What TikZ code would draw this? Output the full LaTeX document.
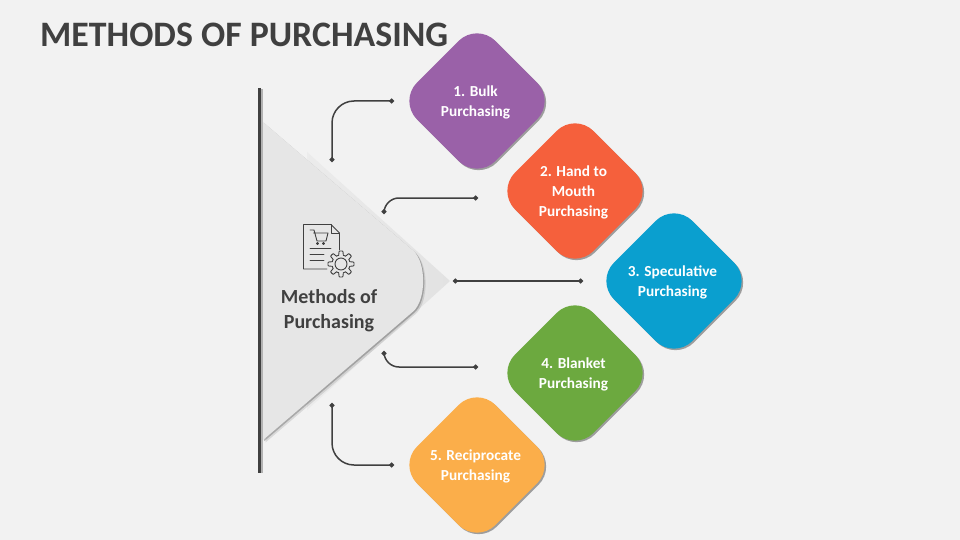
\documentclass[tikz,border=0pt]{standalone}
\usepackage{fontspec}
\setmainfont{Carlito}
\usetikzlibrary{shapes.geometric,arrows.meta,shadows}
\definecolor{bgc}{HTML}{F2F2F2}
\definecolor{ink}{HTML}{404040}
\definecolor{hubc}{HTML}{E6E6E6}
\definecolor{backc}{HTML}{E2E2E2}
\definecolor{cPurple}{HTML}{9A61A8}
\definecolor{cRed}{HTML}{F5603C}
\definecolor{cBlue}{HTML}{0A9FCF}
\definecolor{cGreen}{HTML}{6CA93F}
\definecolor{cOrange}{HTML}{FBAE4A}
\newcommand{\hubpath}{(263,122) -- (413,250.4) .. controls (426.5,262) and (426.5,300) .. (413,311.6) -- (263,440) -- cycle}
\tikzset{
  x=1pt,y=-1pt,
  card/.style={diamond,minimum width=157pt,minimum height=157pt,inner sep=0pt,
    rounded corners=26pt,fill=#1,
    drop shadow={shadow xshift=1.5pt,shadow yshift=-1.5pt,opacity=.35,fill=black}},
  cardtext/.style={text=white,font=\fontsize{15.3}{19.6}\selectfont\bfseries,align=center,inner sep=0pt},
  link/.style={draw=ink,line width=1.5pt,{Circle[length=4.8pt]}-{Circle[length=4.8pt]}},
  icon/.style={draw=ink,line width=.9pt,line join=round,line cap=round},
}
\begin{document}
\begin{tikzpicture}
\useasboundingbox (0,0) rectangle (960,540);
\fill[bgc] (0,0) rectangle (960,540);
\node[anchor=west,inner sep=0pt,text=ink,font=\fontsize{35.8}{36}\selectfont\bfseries] (title) at (40,35) {METHODS OF PURCHASING};
% back triangle
\path[left color=bgc!60!backc,right color=backc] (307,152) -- (450,281) -- (307,410) -- cycle;
% spine
\fill[black!30] (260,89) rectangle (262.5,473);
\draw[ink,line width=2.5pt] (259.5,88) -- (259.5,473);
% hub shadow + hub
\fill[black,opacity=.1,shift={(2.5,2.5)}] \hubpath;
\fill[black,opacity=.22,shift={(1.2,1.2)}] \hubpath;
\fill[hubc] \hubpath;
\node[align=center,text=ink,inner sep=0pt,font=\fontsize{20}{25}\selectfont\bfseries] (hub) at (329,310.5) {Methods of\\Purchasing};
% icon
\draw[icon] (327,269) -- (303.5,269) -- (303.5,224.5) -- (331,224.5) -- (339.5,233) -- (339.5,250);
\draw[icon] (331,224.5) -- (331,233) -- (339.5,233);
\draw[icon] (310,230) -- (314,230) -- (317,241) -- (326,241) -- (328,233) -- (313.5,233);
\filldraw[icon] (317.5,243.5) circle (1pt) (323.5,243.5) circle (1pt);
\draw[icon] (310,248) -- (331,248) (310,254) -- (324,254) (310,260) -- (324,260);
\draw[icon,fill=hubc] plot[domain=0:360,samples=121] ({341+(11+2*max(-1,min(1,2.5*cos(8*\x))))*cos(\x)},{264+(11+2*max(-1,min(1,2.5*cos(8*\x))))*sin(\x)}) -- cycle;
\draw[icon] (341,264) circle (6pt);
% cards
\node[card=cPurple] (c1) at (477,101) {};
\node[card=cRed] (c2) at (575,191) {};
\node[card=cBlue] (c3) at (674,281) {};
\node[card=cGreen] (c4) at (575,373) {};
\node[card=cOrange] (c5) at (477,465) {};
\node[cardtext] (t1) at ([xshift=-1.5pt,yshift=-1.5pt]c1.center) {1. Bulk\\Purchasing};
\node[cardtext] (t2) at ([xshift=-1.5pt,yshift=-1.5pt]c2.center) {2. Hand to\\Mouth\\Purchasing};
\node[cardtext] (t3) at ([xshift=-1.5pt,yshift=-1.5pt]c3.center) {3. Speculative\\Purchasing};
\node[cardtext] (t4) at ([xshift=-1.5pt,yshift=-1.5pt]c4.center) {4. Blanket\\Purchasing};
\node[cardtext] (t5) at ([xshift=-1.5pt,yshift=-1.5pt]c5.center) {5. Reciprocate\\Purchasing};
% connector ends
\coordinate (a1) at (332,162); \coordinate (b1) at (394,101);
\coordinate (a2) at (384,214); \coordinate (b2) at (478,198);
\coordinate (a3) at (453,281); \coordinate (b3) at (583,281);
\coordinate (a4) at (384,351); \coordinate (b4) at (478,367);
\coordinate (a5) at (332,403); \coordinate (b5) at (394,465);
\draw[link,rounded corners=22pt] (a1) |- (b1);
\draw[link,rounded corners=15pt] (a2) |- (b2);
\draw[link] (a3) -- (b3);
\draw[link,rounded corners=15pt] (a4) |- (b4);
\draw[link,rounded corners=22pt] (a5) |- (b5);
\end{tikzpicture}
\end{document}
